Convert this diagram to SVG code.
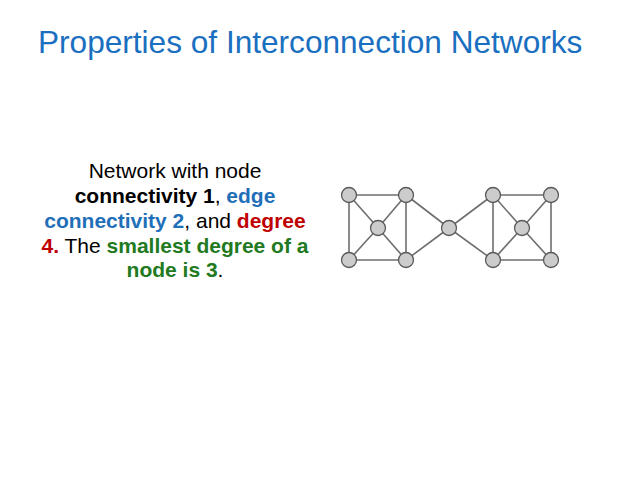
<svg xmlns="http://www.w3.org/2000/svg" width="638" height="478" viewBox="0 0 638 478">
<style>
.t{font-family:"Liberation Sans",Arial,sans-serif}
.b{font-weight:bold}
.blue{fill:#1f6fb8}
.red{fill:#c00000}
.green{fill:#217a21}
.e{stroke:#6e6e6e;stroke-width:1.6;fill:none}
.n{fill:#cccccc;stroke:#5a5a5a;stroke-width:1.3}
</style>
<rect width="638" height="478" fill="#ffffff"/>
<text class="t" x="38" y="52.5" font-size="31.6" fill="#1a6fc0">Properties of Interconnection Networks</text>
<g id="caption" class="t" font-size="21" text-anchor="middle" fill="#000">
<text x="175" y="178">Network with node</text>
<text x="175" y="202.5"><tspan class="b">connectivity 1</tspan>, <tspan class="b blue">edge</tspan></text>
<text x="175" y="227.5"><tspan class="b blue">connectivity 2</tspan>, and <tspan class="b red">degree</tspan></text>
<text x="175" y="252.5"><tspan class="b red">4.</tspan> The <tspan class="b green">smallest degree of a</tspan></text>
<text x="175" y="277"><tspan class="b green">node is 3</tspan>.</text>
</g>
<g id="connectors" class="e">
<line x1="349" y1="195" x2="406" y2="195"/>
<line x1="349" y1="195" x2="349" y2="260"/>
<line x1="349" y1="195" x2="378" y2="228"/>
<line x1="406" y1="195" x2="378" y2="228"/>
<line x1="406" y1="195" x2="406" y2="260"/>
<line x1="349" y1="260" x2="378" y2="228"/>
<line x1="349" y1="260" x2="406" y2="260"/>
<line x1="378" y1="228" x2="406" y2="260"/>
<line x1="406" y1="195" x2="449" y2="228"/>
<line x1="406" y1="260" x2="449" y2="228"/>
<line x1="493" y1="195" x2="449" y2="228"/>
<line x1="493" y1="260" x2="449" y2="228"/>
<line x1="493" y1="195" x2="551" y2="195"/>
<line x1="493" y1="195" x2="493" y2="260"/>
<line x1="493" y1="195" x2="522" y2="228"/>
<line x1="551" y1="195" x2="522" y2="228"/>
<line x1="551" y1="195" x2="551" y2="260"/>
<line x1="493" y1="260" x2="522" y2="228"/>
<line x1="493" y1="260" x2="551" y2="260"/>
<line x1="522" y1="228" x2="551" y2="260"/>
</g>
<g id="node-l1"><circle class="n" cx="349" cy="195" r="7.5"/></g>
<g id="node-l2"><circle class="n" cx="406" cy="195" r="7.5"/></g>
<g id="node-l3"><circle class="n" cx="378" cy="228" r="7.5"/></g>
<g id="node-l4"><circle class="n" cx="349" cy="260" r="7.5"/></g>
<g id="node-l5"><circle class="n" cx="406" cy="260" r="7.5"/></g>
<g id="node-c"><circle class="n" cx="449" cy="228" r="7.5"/></g>
<g id="node-r1"><circle class="n" cx="493" cy="195" r="7.5"/></g>
<g id="node-r2"><circle class="n" cx="551" cy="195" r="7.5"/></g>
<g id="node-r3"><circle class="n" cx="522" cy="228" r="7.5"/></g>
<g id="node-r4"><circle class="n" cx="493" cy="260" r="7.5"/></g>
<g id="node-r5"><circle class="n" cx="551" cy="260" r="7.5"/></g>
</svg>
